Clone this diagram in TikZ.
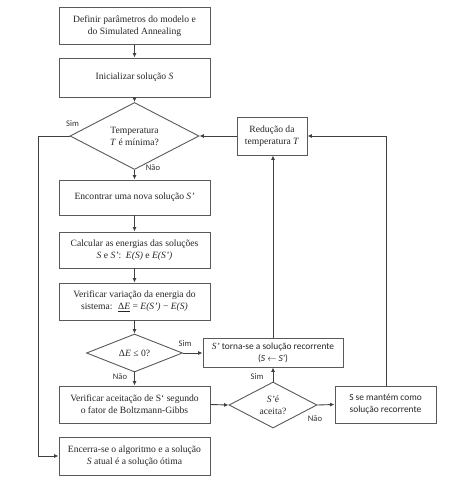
\documentclass[tikz,border=0pt]{standalone}
\usepackage{fontspec}
\setmainfont{Liberation Serif}
\newfontfamily\sansf{Carlito}
\usetikzlibrary{shapes.geometric,arrows.meta}
\begin{document}
\begin{tikzpicture}[x=1pt,y=-1pt,
  box/.style={draw=black!65, line width=0.9pt, fill=white, align=center, inner sep=1pt, font=\fontsize{9.6}{12}\selectfont, text=black!85},
  sbox/.style={box, font=\sansf\fontsize{9.4}{12}\selectfont},
  dia/.style={draw=black!65, line width=0.9pt, diamond, align=center, inner sep=0pt, font=\fontsize{9.6}{12}\selectfont, text=black!85},
  lbl/.style={font=\sansf\fontsize{8.6}{10}\selectfont, text=black!80, inner sep=0pt},
  arr/.style={draw=black!75, line width=0.9pt, -{Latex[length=4.5pt,width=4pt]}},
  ln/.style={draw=black!75, line width=0.9pt}]
\useasboundingbox (0,0) rectangle (474,481);
\node[box, minimum width=151, minimum height=37] (b1) at (134.5,26) {Definir parâmetros do modelo e\\do Simulated Annealing};
\node[box, minimum width=151, minimum height=39] (b2) at (134.5,77.5) {Inicializar solução \textit{S}};
\node[dia, minimum width=129, minimum height=56] (d1) at (134.5,136) {Temperatura\\\textit{T} é mínima?};
\node[box, minimum width=151, minimum height=35] (b3) at (134.5,197.5) {Encontrar uma nova solução \textit{S'}};
\node[box, minimum width=151, minimum height=36] (b4) at (134.5,250) {Calcular as energias das soluções\\\textit{S} e \textit{S'}: \ \textit{E(S)} e \textit{E(S')}};
\node[box, minimum width=151, minimum height=37] (b5) at (134.5,301.5) {Verificar variação da energia do\\sistema: \ \underline{Δ\textit{E}} = \textit{E(S')} − \textit{E(S)}};
\node[dia, minimum width=96, minimum height=38] (d2) at (134.5,353) {Δ\textit{E} ≤ 0?};
\node[sbox, minimum width=140, minimum height=29] (b6) at (273,352.5) {{\rmfamily\itshape S'} torna-se a solução recorrente\\(\textit{S} $\leftarrow$ \textit{S'})};
\node[box, minimum width=151, minimum height=37] (b7) at (134.5,404.5) {Verificar aceitação de S` segundo\\o fator de Boltzmann-Gibbs};
\node[dia, minimum width=88, minimum height=46] (d3) at (273,405) {\textit{S'}é\\aceita?};
\node[sbox, minimum width=101, minimum height=37] (b8) at (385.5,404.5) {S se mantém como\\solução recorrente};
\node[box, minimum width=151, minimum height=38] (b9) at (134.5,456) {Encerra-se o algoritmo e a solução\\\textit{S} atual é a solução ótima};
\node[box, minimum width=70, minimum height=38] (b10) at (272,136) {Redução da\\temperatura \textit{T}};
\coordinate (cl1) at (38,136);
\coordinate (cl2) at (38,456);
\coordinate (cr1) at (386,136);
\draw[arr] (b1) -- (b2);
\draw[arr] (b2) -- (d1);
\draw[arr] (d1) -- (b3);
\draw[arr] (b3) -- (b4);
\draw[arr] (b4) -- (b5);
\draw[arr] (b5) -- (d2);
\draw[arr] (d2) -- (b7);
\draw[arr] (d2.east) -- (b6.west |- d2.east);
\draw[arr] (b7.east) -- (d3.west);
\draw[arr] (d3.east) -- (b8.west);
\draw[arr] (d3.north) -- (b6.south -| d3.north);
\draw[arr] (b6.north) -- (b10.south -| b6.north);
\draw[arr] (b8.north -| cr1) -- (cr1) -- (b10.east);
\draw[arr] (b10.west) -- (d1.east);
\draw[arr] (d1.west) -- (cl1) -- (cl2) -- (b9.west);
\node[lbl] (l1) at (72.5,124) {Sim};
\node[lbl] (l2) at (153,168) {Não};
\node[lbl] (l3) at (185,344) {Sim};
\node[lbl] (l4) at (120,377) {Não};
\node[lbl] (l5) at (257,377) {Sim};
\node[lbl] (l6) at (315,419) {Não};
\end{tikzpicture}
\end{document}
